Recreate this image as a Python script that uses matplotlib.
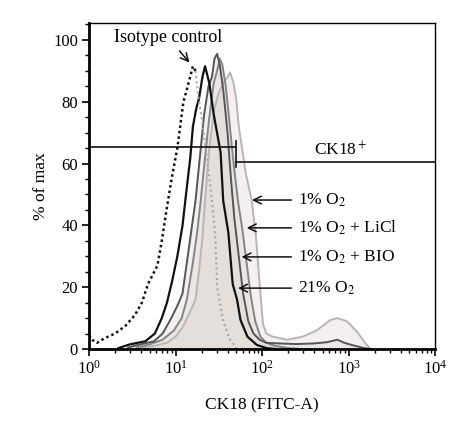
import numpy as np
import matplotlib
matplotlib.use("Agg")
import matplotlib.pyplot as plt
from matplotlib.ticker import LogLocator, LogFormatterMathtext, MultipleLocator

plt.rcParams['font.family'] = ['Liberation Serif', 'DejaVu Serif']
plt.rcParams['mathtext.fontset'] = 'stix'

# histogram traces, x given as log10(fluorescence), y as % of max
iso_logx = [0.00, 0.035, 0.09, 0.18, 0.30, 0.42, 0.53, 0.61, 0.68, 0.79, 0.84, 0.90,
            0.96, 1.02, 1.09, 1.13, 1.20, 1.23, 1.26, 1.31, 1.37, 1.42, 1.46, 1.48,
            1.55, 1.63, 1.71]
iso_y = [4.5, 3.0, 2.0, 3.5, 5.0, 7.5, 11.0, 15.0, 21.0, 27.0, 35.0, 46.0,
         56.0, 65.0, 80.0, 84.0, 91.5, 90.0, 82.0, 73.0, 60.0, 48.0, 36.0, 20.0,
         9.0, 3.0, 0.0]
iso_peak_idx = 17  # dotted line turns grey after the peak

o21_logx = [0.34, 0.47, 0.65, 0.76, 0.84, 0.90, 0.96, 1.02, 1.08, 1.12, 1.17, 1.20,
            1.24, 1.27, 1.31, 1.34, 1.39, 1.44, 1.52, 1.55, 1.61, 1.66, 1.71, 1.75,
            1.83, 1.94, 2.05, 2.15]
o21_y = [0.3, 1.5, 2.5, 5.0, 10.0, 15.0, 22.0, 30.0, 40.0, 50.0, 62.0, 72.0,
         78.0, 81.0, 88.0, 91.5, 86.0, 76.0, 63.6, 48.0, 37.6, 21.0, 16.0, 9.4,
         4.0, 1.3, 0.3, 0.0]

bio_logx = [0.45, 0.59, 0.75, 0.85, 0.95, 1.02, 1.08, 1.13, 1.18, 1.23, 1.28, 1.33,
            1.38, 1.42, 1.45, 1.48, 1.51, 1.55, 1.60, 1.64, 1.68, 1.73, 1.78, 1.84,
            1.90, 1.97, 2.05, 2.20, 2.40, 2.60, 2.75, 2.87, 2.95, 3.05, 3.18, 3.25]
bio_y = [0.5, 1.5, 2.5, 5.0, 10.0, 14.0, 18.0, 28.0, 38.0, 48.0, 62.0, 76.0,
         85.0, 88.0, 94.0, 95.5, 92.0, 84.0, 70.0, 55.0, 42.0, 30.0, 18.0, 9.0,
         5.0, 3.0, 2.0, 1.8, 1.6, 1.8, 2.2, 3.0, 2.0, 1.2, 0.3, 0.0]

licl_logx = [0.55, 0.70, 0.85, 0.98, 1.07, 1.13, 1.20, 1.25, 1.29, 1.34, 1.39, 1.44,
             1.48, 1.51, 1.54, 1.58, 1.62, 1.67, 1.72, 1.77, 1.82, 1.87, 1.92, 1.98,
             2.05, 2.15, 2.30, 2.45]
licl_y = [0.5, 1.5, 3.0, 6.0, 10.0, 16.0, 28.0, 38.0, 48.0, 62.0, 75.0, 86.0,
          90.0, 94.0, 92.0, 85.0, 74.0, 60.0, 48.0, 39.0, 28.0, 17.0, 9.0, 4.0,
          2.0, 1.0, 0.3, 0.0]

o1_logx = [0.60, 0.75, 0.90, 1.00, 1.08, 1.15, 1.20, 1.23, 1.27, 1.31, 1.34, 1.39,
           1.45, 1.50, 1.55, 1.60, 1.63, 1.67, 1.70, 1.73, 1.77, 1.81, 1.88, 1.93,
           1.96, 1.98, 2.01, 2.05, 2.12, 2.29, 2.47, 2.63, 2.79, 2.87, 2.98, 3.10,
           3.19, 3.25]
o1_y = [0.5, 1.0, 2.0, 4.0, 7.0, 11.0, 14.0, 16.0, 25.0, 36.0, 48.0, 65.0,
        78.0, 83.0, 86.0, 88.0, 89.5, 86.0, 81.0, 72.0, 64.6, 57.0, 48.0, 36.0,
        25.0, 18.0, 8.0, 5.0, 4.0, 3.0, 4.0, 6.0, 9.4, 10.0, 9.0, 5.5,
        2.0, 0.0]

# gates: (start, end, level)
gate_m1 = (1, 50, 65.3)
gate_ck18 = (50, 10000, 60.6)

fig = plt.figure(figsize=(4.74, 4.33), dpi=100)
ax = fig.add_axes([0.188, 0.194, 0.730, 0.753])

fill_col = '#d9d0cb'
for lx, yy in [(o1_logx, o1_y), (licl_logx, licl_y), (bio_logx, bio_y)]:
    ax.fill_between(10 ** np.array(lx), yy, 0, color=fill_col, alpha=0.3, lw=0)

ax.plot(10 ** np.array(o1_logx), o1_y, color='#b8b5b3', lw=1.4)
ax.plot(10 ** np.array(licl_logx), licl_y, color='#858585', lw=1.4)
ax.plot(10 ** np.array(bio_logx), bio_y, color='#555555', lw=1.4)
ax.plot(10 ** np.array(o21_logx), o21_y, color='#111111', lw=1.6)

iso_x = 10 ** np.array(iso_logx)
ax.plot(iso_x[:iso_peak_idx + 1], iso_y[:iso_peak_idx + 1], color='#111111',
        lw=1.8, ls=(0, (1, 1.2)))
ax.plot(iso_x[iso_peak_idx:], iso_y[iso_peak_idx:], color='#a8a8a8',
        lw=1.5, ls=(0, (1, 1.5)))

# gate markers
ax.plot([gate_m1[0], gate_m1[1]], [gate_m1[2], gate_m1[2]], color='#111111', lw=1.2)
ax.plot([gate_ck18[0], gate_ck18[1]], [gate_ck18[2], gate_ck18[2]], color='#111111', lw=1.2)
ax.plot([gate_m1[1], gate_m1[1]], [58.8, 67.3], color='#111111', lw=1.2)
ax.text(10 ** 2.91, 64.4, 'CK18$^+$', ha='center', va='center', fontsize=12.5)

# annotations
arrow = dict(arrowstyle='->', color='#111111', lw=1.1, mutation_scale=14)
ax.annotate('Isotype control', xy=(10 ** 1.18, 92), xytext=(10 ** 0.913, 100.8),
            ha='center', va='center', fontsize=13, arrowprops=arrow)

labels = ['1% O$_2$', '1% O$_2$ + LiCl', '1% O$_2$ + BIO', '21% O$_2$']
label_y = [48.2, 39.2, 29.8, 19.7]
tip_logx = [1.85, 1.79, 1.73, 1.69]
for lab, ly, tx in zip(labels, label_y, tip_logx):
    ax.annotate('', xy=(10 ** tx, ly), xytext=(10 ** 2.37, ly), arrowprops=arrow)
    ax.text(10 ** 2.42, ly, lab, ha='left', va='center', fontsize=12.5)

ax.set_xscale('log')
ax.set_xlim(1, 10000)
ax.set_ylim(0, 105.5)
ax.yaxis.set_major_locator(MultipleLocator(20))
ax.yaxis.set_minor_locator(MultipleLocator(5))
ax.xaxis.set_major_locator(LogLocator(base=10))
ax.xaxis.set_major_formatter(LogFormatterMathtext())
ax.xaxis.set_minor_locator(LogLocator(base=10, subs=np.arange(2, 10)))

ax.tick_params(which='major', direction='out', length=5, width=1.2, labelsize=12, pad=3)
ax.tick_params(which='minor', direction='out', length=3, width=1.0)
ax.tick_params(top=False, right=False)

for s in ['left', 'bottom']:
    ax.spines[s].set_linewidth(2.0)
for s in ['top', 'right']:
    ax.spines[s].set_linewidth(1.0)

ax.set_xlabel('CK18 (FITC-A)', fontsize=12.5, labelpad=14)
ax.set_ylabel('% of max', fontsize=12.5, labelpad=3)

fig.savefig('out.png', dpi=100)
